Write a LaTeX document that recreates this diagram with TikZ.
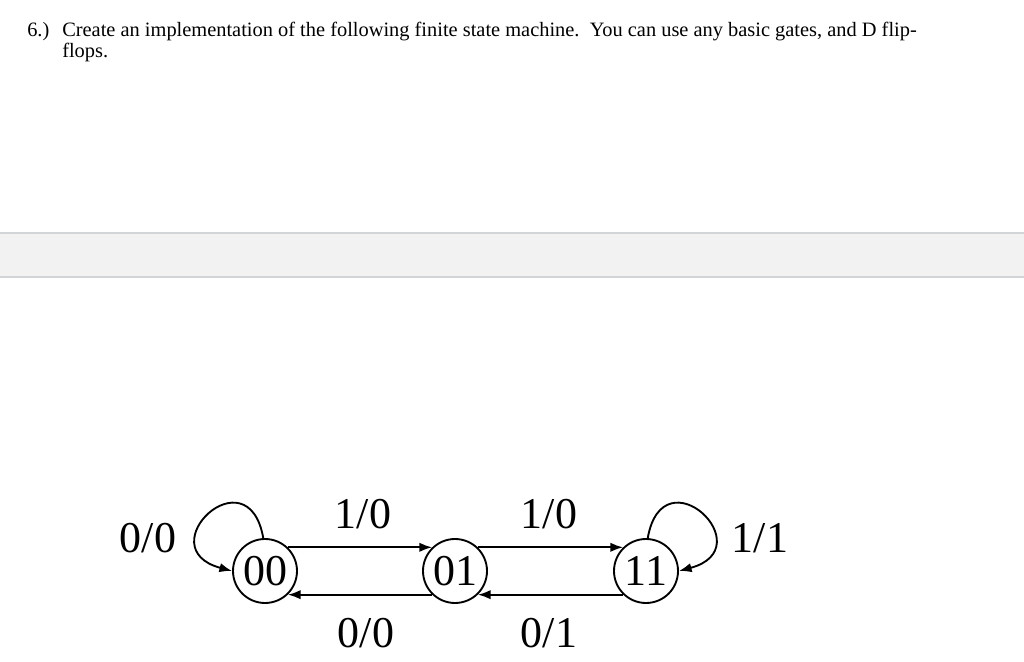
\documentclass[tikz,border=0pt]{standalone}
\usepackage{fontspec}
\setmainfont{Liberation Serif}
\usetikzlibrary{arrows.meta}
\definecolor{bandfill}{HTML}{F2F2F2}
\definecolor{bandline}{HTML}{D2D5D8}
\tikzset{
  state/.style={circle,draw,line width=1.4pt,minimum size=48pt,inner sep=0pt,
    font=\fontsize{33}{36}\selectfont},
  trans/.style={line width=1.4pt,-{Latex[length=9.5pt,width=7pt]}},
  lbl/.style={anchor=base,inner sep=0pt,font=\fontsize{33}{36}\selectfont},
  hdr/.style={anchor=base west,inner sep=0pt,font=\fontsize{15.3}{18}\selectfont}
}
\begin{document}
\begin{tikzpicture}[x=0.75pt,y=0.75pt]
\useasboundingbox (0,0) rectangle (1024,661);
\fill[white] (0,0) rectangle (1024,661);
% header
\node[hdr] (num) at (27,624) {6.)};
\node[hdr] (l1) at (62,624) {Create an implementation of the following finite state machine.\ \ You can use any basic gates, and D flip-};
\node[hdr] (l2) at (62,603) {flops.};
% band
\fill[bandfill] (0,384) rectangle (1024,428);
\draw[bandline,line width=1.2pt] (0,428) -- (1024,428);
\draw[bandline,line width=1.2pt] (0,384) -- (1024,384);
% states
\node[state] (s00) at (265,90) {00};
\node[state] (s01) at (455,90) {01};
\node[state] (s11) at (646,90) {11};
% transitions
\draw[trans] (s00.46) -- (s01.134);
\draw[trans] (s01.46) -- (s11.134);
\draw[trans] (s11.-134) -- (s01.-46);
\draw[trans] (s01.-134) -- (s00.-46);
\draw[trans] (s00.93) .. controls +(100:88) and +(165:88) .. (s00.180);
\draw[trans] (s11.87) .. controls +(80:88) and +(15:88) .. (s11.0);
% labels
\node[lbl] (a) at (148,109) {0/0};
\node[lbl] (b) at (363,133) {1/0};
\node[lbl] (c) at (549,133) {1/0};
\node[lbl] (d) at (760,109) {1/1};
\node[lbl] (e) at (366,14) {0/0};
\node[lbl] (f) at (549,14) {0/1};
\end{tikzpicture}
\end{document}
